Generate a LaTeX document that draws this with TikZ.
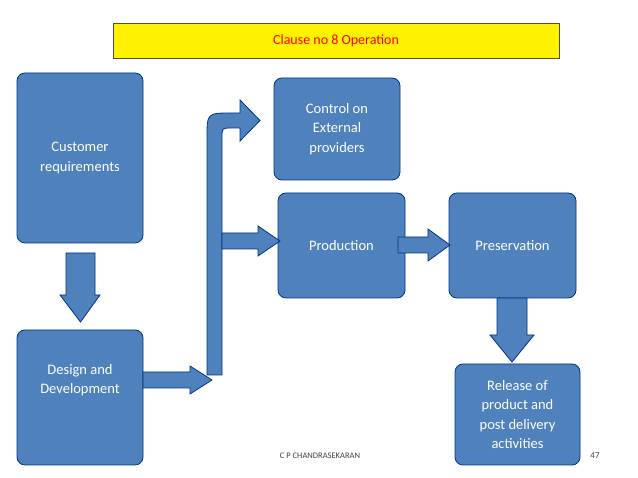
\documentclass[tikz,border=0pt]{standalone}
\usepackage{fontspec}
\setmainfont{Carlito}
\begin{document}
\begin{tikzpicture}[x=1pt,y=-1pt,
  txt/.style={text=white,align=center,font=\fontsize{14.5}{19.5}\selectfont,inner sep=0pt},
  box/.style={txt,draw=blue!40!black!80!cyan,line width=0.8pt,fill=boxblue,rounded corners=8pt},
  arr/.style={draw=blue!40!black!80!cyan,line width=0.8pt,fill=boxblue}]
\definecolor{boxblue}{HTML}{4F81BD}
\useasboundingbox (0,0) rectangle (638,478);
\node[draw=black!70,fill=yellow,minimum width=446,minimum height=35,inner sep=0pt,text=red,font=\fontsize{14}{15}\selectfont] (title) at (336,40.5) {Clause no 8 Operation};
\node[box,minimum width=126,minimum height=170] (cust) at (80,158) {Customer\\requirements};
\node[box,minimum width=126,minimum height=135] (des) at (80,397.5) {};
\node[txt] (dest) at (80,380) {Design and\\Development};
\node[box,minimum width=126,minimum height=102] (ctrl) at (337,129) {Control on\\External\\providers};
\node[box,minimum width=127,minimum height=105] (prod) at (341.5,245.5) {Production};
\node[box,minimum width=127,minimum height=105] (pres) at (512.5,245.5) {Preservation};
\node[box,minimum width=125,minimum height=101] (rel) at (517.5,414.5) {Release of\\product and\\post delivery\\activities};
% down arrow customer -> design
\draw[arr] (66,253) -- (95,253) -- (95,295) -- (100,295) -- (80.5,322) -- (60,295) -- (66,295) -- cycle;
% right arrow design -> bent
\draw[arr] (143,372) -- (190,372) -- (190,366) -- (212,380) -- (190,394) -- (190,388) -- (143,388) -- cycle;
% bent arrow
\draw[arr] (207,375) -- (207,138) .. controls (207,113) .. (232,113) -- (240,113) -- (240,100) -- (260,120.5) -- (240,141) -- (240,128) -- (232,128) .. controls (222,128) .. (222,138) -- (222,375) -- cycle;
% branch to production
\draw[arr] (222,233) -- (258,233) -- (258,226) -- (280,241) -- (258,256) -- (258,249) -- (222,249) -- cycle;
% production -> preservation
\draw[arr] (398,237) -- (428,237) -- (428,229) -- (450,245) -- (428,261) -- (428,253) -- (398,253) -- cycle;
% preservation -> release
\draw[arr] (497,298) -- (527,298) -- (527,335) -- (534,335) -- (512,362) -- (490,335) -- (497,335) -- cycle;
\node[font=\fontsize{8.5}{10}\selectfont,text=black!75] (foot) at (320,456) {C P CHANDRASEKARAN};
\node[font=\fontsize{9}{10}\selectfont,text=black!75] (num) at (595,456) {47};
\end{tikzpicture}
\end{document}
